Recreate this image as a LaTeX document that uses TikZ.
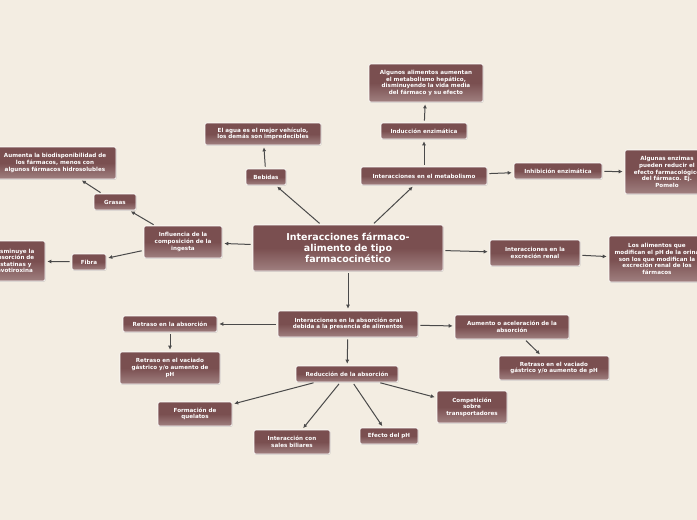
\documentclass[tikz,border=0pt]{standalone}
\usepackage{fontspec}
\setmainfont{DejaVu Sans}
\usetikzlibrary{arrows.meta,shadows}
\definecolor{bg}{HTML}{F3EDE2}
\definecolor{boxc}{HTML}{7A4F50}
\definecolor{boxl}{HTML}{A08080}
\definecolor{arr}{HTML}{4A4A4A}
\tikzset{
 bx/.style={draw=white,line width=0.6pt,rounded corners=2pt,top color=boxc,bottom color=boxl,middle color=boxc,
  text=white,font=\bfseries\fontsize{5.6}{6.6}\selectfont,align=center,inner sep=2pt,
  drop shadow={shadow xshift=0.6pt,shadow yshift=-0.8pt,opacity=0.3}},
 ar/.style={draw=arr,line width=1pt,-{Latex[length=4pt,width=4pt]},shorten >=2pt,shorten <=2pt}
}
\begin{document}
\begin{tikzpicture}[x=1pt,y=-1pt]
\fill[bg] (0,0) rectangle (697,520);
\useasboundingbox (0,0) rectangle (697,520);
\clip (0,0) rectangle (697,520);
\node[bx,minimum width=190,minimum height=46,font=\bfseries\fontsize{9.5}{11}\selectfont,fill=boxc] (main) at (348,248) {Interacciones fármaco-\\alimento de tipo\\farmacocinético};
\node[bx,minimum width=126,minimum height=18] (met) at (424,176) {Interacciones en el metabolismo};
\node[bx,minimum width=86,minimum height=16] (ind) at (424,131) {Inducción enzimática};
\node[bx,minimum width=114,minimum height=38] (alg) at (426,83) {Algunos alimentos aumentan\\el metabolismo hepático,\\disminuyendo la vida media\\del fármaco y su efecto};
\node[bx,minimum width=88,minimum height=16] (inh) at (558,171) {Inhibición enzimática};
\node[bx,minimum width=84,minimum height=44] (enz) at (667,172) {Algunas enzimas\\pueden reducir el\\efecto farmacológico\\del fármaco. Ej.\\Pomelo};
\node[bx,minimum width=116,minimum height=22] (agua) at (263,134) {El agua es el mejor vehículo,\\los demás son impredecibles};
\node[bx,minimum width=40,minimum height=16] (beb) at (266,177) {Bebidas};
\node[bx,minimum width=78,minimum height=32] (infl) at (183,242) {Influencia de la\\composición de la\\ingesta};
\node[bx,minimum width=42,minimum height=16] (gra) at (115,202) {Grasas};
\node[bx,minimum width=122,minimum height=32] (aum) at (55,163) {Aumenta la biodisponibilidad de\\los fármacos, menos con\\algunos fármacos hidrosolubles};
\node[bx,minimum width=34,minimum height=16] (fib) at (89,262) {Fibra};
\node[bx,minimum width=62,minimum height=40] (dis) at (14,261) {Disminuye la\\absorción de\\estatinas y\\levotiroxina};
\node[bx,minimum width=90,minimum height=26] (exc) at (535,253) {Interacciones en la\\excreción renal};
\node[bx,minimum width=96,minimum height=46] (losal) at (657,259) {Los alimentos que\\modifican el pH de la orina\\son los que modifican la\\excreción renal de los\\fármacos};
\node[bx,minimum width=140,minimum height=26] (abs) at (348,324) {Interacciones en la absorción oral\\debida a la presencia de alimentos};
\node[bx,minimum width=94,minimum height=16] (ret) at (170,324) {Retraso en la absorción};
\node[bx,minimum width=100,minimum height=32] (retv) at (170,368) {Retraso en el vaciado\\gástrico y/o aumento de\\pH};
\node[bx,minimum width=114,minimum height=24] (acel) at (512,327) {Aumento o aceleración de la\\absorción};
\node[bx,minimum width=110,minimum height=24] (retv2) at (554,368) {Retraso en el vaciado\\gástrico y/o aumento de pH};
\node[bx,minimum width=102,minimum height=16] (red) at (347,374) {Reducción de la absorción};
\node[bx,minimum width=74,minimum height=24] (form) at (195,414) {Formación de\\quelatos};
\node[bx,minimum width=76,minimum height=24] (sal) at (292,442) {Interacción con\\sales biliares};
\node[bx,minimum width=58,minimum height=16] (ph) at (389,436) {Efecto del pH};
\node[bx,minimum width=70,minimum height=32] (comp) at (472,407) {Competición\\sobre\\transportadores};
\draw[ar] (main) -- (met);
\draw[ar] (met) -- (ind);
\draw[ar] (ind) -- (alg);
\draw[ar] (met) -- (inh);
\draw[ar] (inh) -- (enz);
\draw[ar] (main) -- (beb);
\draw[ar] (beb) -- (agua);
\draw[ar] (main) -- (infl);
\draw[ar] (infl) -- (gra);
\draw[ar] (gra) -- (aum);
\draw[ar] (infl) -- (fib);
\draw[ar] (fib) -- (dis);
\draw[ar] (main) -- (exc);
\draw[ar] (exc) -- (losal);
\draw[ar] (main) -- (abs);
\draw[ar] (abs) -- (ret);
\draw[ar] (ret) -- (retv);
\draw[ar] (abs) -- (acel);
\draw[ar] (acel) -- (retv2);
\draw[ar] (abs) -- (red);
\draw[ar] (red) -- (form);
\draw[ar] (red) -- (sal);
\draw[ar] (red) -- (ph);
\draw[ar] (red) -- (comp);
\end{tikzpicture}
\end{document}
